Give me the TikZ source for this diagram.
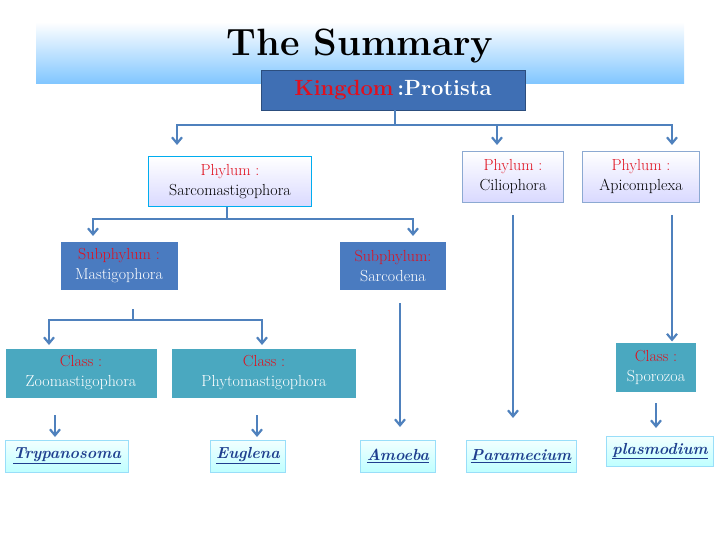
\documentclass[tikz,border=0pt]{standalone}
\usetikzlibrary{arrows.meta}
\definecolor{kblue}{HTML}{3F6FB4}
\definecolor{mblue}{HTML}{4A7BC0}
\definecolor{teal1}{HTML}{4AA8C0}
\definecolor{arr}{HTML}{4F81BD}
\definecolor{lred}{HTML}{E0101E}
\definecolor{leafc}{HTML}{1F3F8F}
\begin{document}
\begin{tikzpicture}[x=1pt,y=-1pt,
  conn/.style={draw=arr,line width=2.2pt},
  arw/.style={conn,-{Straight Barb[length=6pt,width=10pt]}},
  phyl/.style={draw=#1,line width=1pt,top color=white,bottom color=blue!15,align=center,font=\fontsize{16}{20}\selectfont,inner sep=1pt},
  dark/.style={draw=white,line width=1pt,fill=#1,text=white,align=center,font=\fontsize{16}{20}\selectfont,inner sep=1pt},
  leaf/.style={draw=cyan!40,line width=.8pt,top color=cyan!5,bottom color=cyan!25,text=leafc,font=\fontsize{16}{18}\selectfont\bfseries\itshape,inner sep=1pt}]
\useasboundingbox (0,0) rectangle (720,540);
\shade[top color=white,bottom color=blue!45!cyan!50] (36,22) rectangle (684,84);
\node (title) at (360,46) {\fontsize{38}{40}\selectfont\bfseries The Summary};
\node[draw=kblue!70!black,fill=kblue,minimum width=264pt,minimum height=40pt,font=\fontsize{22}{24}\selectfont\bfseries] (king) at (393,90) {\textcolor{lred}{Kingdom}\,\textcolor{white}{:Protista}};
\node[phyl=cyan,minimum width=163pt,minimum height=50pt] (sarco) at (230,182) {\textcolor{lred}{Phylum :}\\Sarcomastigophora};
\node[phyl=kblue!60,minimum width=101pt,minimum height=51pt] (cilio) at (513,177) {\textcolor{lred}{Phylum :}\\Ciliophora};
\node[phyl=kblue!60,minimum width=117pt,minimum height=51pt] (apic) at (641,177) {\textcolor{lred}{Phylum :}\\Apicomplexa};
\node[dark=mblue,minimum width=118pt,minimum height=49pt] (mast) at (119,266) {\textcolor{lred}{Subphylum :}\\Mastigophora};
\node[dark=mblue,minimum width=107pt,minimum height=49pt] (sarcod) at (393,266) {\textcolor{lred}{Subphylum:}\\Sarcodena};
\node[dark=teal1,minimum width=152pt,minimum height=50pt] (zoo) at (81,373) {\textcolor{lred}{Class :}\\Zoomastigophora};
\node[dark=teal1,minimum width=185pt,minimum height=50pt] (phyto) at (264,373) {\textcolor{lred}{Class :}\\Phytomastigophora};
\node[dark=teal1,minimum width=81pt,minimum height=50pt] (sporo) at (656,367) {\textcolor{lred}{Class :}\\Sporozoa};
\node[leaf,minimum width=123pt,minimum height=32pt] (tryp) at (67,456) {\underline{Trypanosoma}};
\node[leaf,minimum width=75pt,minimum height=32pt] (eug) at (248,456) {\underline{Euglena}};
\node[leaf,minimum width=75pt,minimum height=32pt] (amo) at (398,456) {\underline{Amoeba}};
\node[leaf,minimum width=110pt,minimum height=32pt] (para) at (521,456) {\underline{Paramecium}};
\node[leaf,minimum width=107pt,minimum height=30pt] (plas) at (660,451) {\underline{plasmodium}};
% connectors
\coordinate (k1) at (395,125);
\draw[conn] (king.south -| k1) -- (k1);
\draw[arw] (k1) -- (177,125) -- (177,145);
\draw[arw] (k1) -- (672,125) -- (672,145);
\draw[arw] (497,125) -- (497,145);
\coordinate (s1) at (227,219);
\draw[conn] (sarco.south -| s1) -- (s1);
\draw[arw] (s1) -- (93,219) -- (93,236);
\draw[arw] (s1) -- (413,219) -- (413,236);
\coordinate (c2) at (513,418);
\draw[arw] (513,215) -- (c2);
\draw[arw] (672,215) -- (sporo.north -| 672,0);
\draw[arw] (400,303) -- (400,427);
\coordinate (m1) at (133,320);
\draw[conn] (133,309) -- (m1);
\draw[arw] (m1) -- (49,320) -- (49,345);
\draw[arw] (m1) -- (262,320) -- (262,345);
\draw[arw] (55,415) -- (55,437);
\draw[arw] (257,415) -- (257,437);
\draw[arw] (656,403) -- (656,428);
\end{tikzpicture}
\end{document}
